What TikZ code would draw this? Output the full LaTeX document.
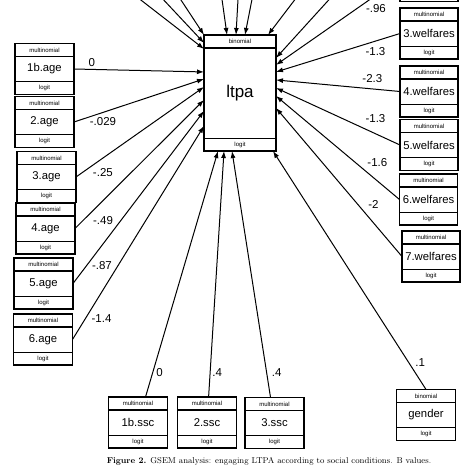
\documentclass[tikz,border=0pt]{standalone}
\usepackage{fontspec}
\setsansfont{Liberation Sans}
\usetikzlibrary{arrows.meta,shapes.multipart}

% three stacked parts of a variable box
\newcommand{\band}[2]{\parbox[c][11.75pt][c]{#1}{\centering\fontsize{6}{7}\selectfont #2}}
\newcommand{\vparts}[5]{\band{#1}{#3}\nodepart{two}\parbox[c][#2][c]{#1}{\centering #4}\nodepart{three}\band{#1}{#5}}

\begin{document}
\begin{tikzpicture}[x=1pt,y=-1pt,>={Latex[length=7pt,width=5pt]},
  varbox/.style={rectangle split,rectangle split parts=3,draw,line width=1.2pt,
    inner sep=0pt,outer sep=0pt,font=\sffamily\fontsize{11.3}{13}\selectfont},
  link/.style={line width=1pt},
  lbl/.style={font=\sffamily\fontsize{11.5}{13}\selectfont,inner sep=0pt}]
\useasboundingbox (0,0) rectangle (474,474);
\clip (0,0) rectangle (474,474);

% outcome
\node[varbox] (ltpa) at (240,93) {\vparts{72pt}{89pt}{binomial}{\fontsize{17}{19}\selectfont ltpa}{logit}};

% age
\node[varbox] (age1) at (44.5,69)  {\vparts{59pt}{24pt}{multinomial}{1b.age}{logit}};
\node[varbox] (age2) at (44.5,122) {\vparts{59pt}{24pt}{multinomial}{2.age}{logit}};
\node[varbox] (age3) at (46.5,177) {\vparts{59pt}{24pt}{multinomial}{3.age}{logit}};
\node[varbox] (age4) at (45.5,228.5) {\vparts{59pt}{24pt}{multinomial}{4.age}{logit}};
\node[varbox] (age5) at (43.5,283.5) {\vparts{59pt}{24pt}{multinomial}{5.age}{logit}};
\node[varbox] (age6) at (43,339.5) {\vparts{59pt}{24pt}{multinomial}{6.age}{logit}};

% welfares
\draw[line width=1.2pt] (400,-60) rectangle (458,1.5);
\node[varbox] (wel3) at (429,33.5)  {\vparts{58pt}{24pt}{multinomial}{3.welfares}{logit}};
\node[varbox] (wel4) at (429,91.5)  {\vparts{58pt}{24pt}{multinomial}{4.welfares}{logit}};
\node[varbox] (wel5) at (429,145)   {\vparts{58pt}{24pt}{multinomial}{5.welfares}{logit}};
\node[varbox] (wel6) at (428.5,199.5) {\vparts{58pt}{24pt}{multinomial}{6.welfares}{logit}};
\node[varbox] (wel7) at (431,256.5) {\vparts{58pt}{24pt}{multinomial}{7.welfares}{logit}};

% ssc and gender
\node[varbox] (ssc1) at (138,422.5) {\vparts{59pt}{24pt}{multinomial}{1b.ssc}{logit}};
\node[varbox] (ssc2) at (207,422.5) {\vparts{59pt}{24pt}{multinomial}{2.ssc}{logit}};
\node[varbox] (ssc3) at (274.5,423) {\vparts{59pt}{24pt}{multinomial}{3.ssc}{logit}};
\node[varbox] (gender) at (426,415) {\vparts{59pt}{24pt}{binomial}{gender}{logit}};

% sources above the crop
\coordinate (tl1) at (121.5,-15);
\coordinate (tl2) at (149.7,-15);
\coordinate (tl3) at (171.1,-15);
\coordinate (tp1) at (220,-15);
\coordinate (tp2) at (238.8,-15);
\coordinate (tp3) at (254.8,-15);
\coordinate (tp4) at (306,-15);
\coordinate (w1) at (400,-78.5);
\coordinate (w2) at (400,-21.5);

\path[->,link]
  (tl1) edge ([yshift=-14pt]ltpa.north west)
  (tl2) edge ([yshift=-8pt]ltpa.north west)
  (tl3) edge (ltpa.north west)
  (tp1) edge ([xshift=23pt]ltpa.north west)
  (tp2) edge ([xshift=32pt]ltpa.north west)
  (tp3) edge ([xshift=41pt]ltpa.north west)
  (tp4) edge ([xshift=64pt]ltpa.north west)
  (w1) edge ([yshift=-23pt]ltpa.north east)
  (w2) edge node[lbl,pos=.194,yshift=-13.3pt] {-.96} ([yshift=-30pt]ltpa.north east)
  (age1.east) edge node[lbl,pos=.138,yshift=6.7pt] {0} ([yshift=-37pt]ltpa.north west)
  (age2.east) edge node[lbl,pos=.223,yshift=-9pt] {-.029} ([yshift=-44pt]ltpa.north west)
  (age3.east) edge node[lbl,pos=.21,yshift=-14.5pt] {-.25} ([yshift=-52pt]ltpa.north west)
  (age4.east) edge node[lbl,pos=.217,yshift=-20pt] {-.49} ([yshift=-65pt]ltpa.north west)
  (age5.east) edge node[lbl,pos=.221,yshift=-20.2pt] {-.87} ([yshift=-76pt]ltpa.north west)
  (age6.east) edge node[lbl,pos=.221,yshift=-26pt] {-1.4} ([yshift=-91pt]ltpa.north west)
  (wel3.west) edge node[lbl,pos=.198,yshift=-10.5pt] {-1.3} ([yshift=-37pt]ltpa.north east)
  (wel4.west) edge node[lbl,pos=.223,yshift=10.4pt] {-2.3} ([yshift=-45pt]ltpa.north east)
  (wel5.west) edge node[lbl,pos=.198,yshift=15pt] {-1.3} ([yshift=-53pt]ltpa.north east)
  (wel6.west) edge node[lbl,pos=.179,yshift=18.3pt] {-1.6} ([yshift=-61pt]ltpa.north east)
  (wel7.west) edge node[lbl,pos=.227,yshift=18.2pt] {-2} ([yshift=-73pt]ltpa.north east)
  (ssc1) edge node[lbl,pos=.1,xshift=6.7pt] {0} ([xshift=14pt]ltpa.south west)
  (ssc2) edge node[lbl,pos=.1,xshift=7pt] {.4} ([xshift=20pt]ltpa.south west)
  (ssc3) edge node[lbl,pos=.1,xshift=10pt] {.4} ([xshift=28pt]ltpa.south west)
  (gender.north) edge node[lbl,pos=.112,xshift=11.4pt] {.1} ([xshift=-3pt]ltpa.south east)
  ;

\node[font=\rmfamily\fontsize{8.5}{10}\selectfont] (caption) at (269,461)
  {\textbf{Figure 2.} GSEM analysis: engaging LTPA according to social conditions. B values.};
\end{tikzpicture}
\end{document}
